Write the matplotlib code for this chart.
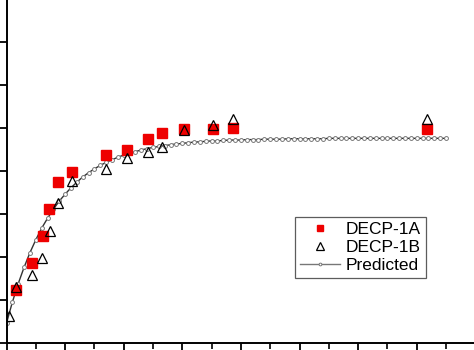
import matplotlib
matplotlib.use("Agg")
import matplotlib.pyplot as plt
from matplotlib.ticker import MultipleLocator

plt.rcParams['font.family'] = ['Liberation Sans', 'DejaVu Sans']

# measured points (axis units; the original labels are cropped off)
x_1a = [0.32, 0.87, 1.25, 1.45, 1.76, 2.24, 3.40, 4.11, 4.83, 5.31, 6.06, 7.05, 7.73, 14.35]
y_1a = [1.23, 1.86, 2.49, 3.12, 3.74, 3.98, 4.37, 4.49, 4.74, 4.88, 4.98, 4.98, 5.00, 4.98]

x_1b = [0.09, 0.32, 0.87, 1.21, 1.48, 1.76, 2.24, 3.40, 4.11, 4.83, 5.31, 6.06, 7.05, 7.73, 14.35]
y_1b = [0.63, 1.30, 1.58, 1.98, 2.60, 3.26, 3.77, 4.05, 4.30, 4.44, 4.56, 4.95, 5.07, 5.21, 5.21]

# predicted curve, read every 0.2 units from 0 to 15
x_pred = [i * 0.2 for i in range(76)]
y_pred = [0.46, 0.95, 1.38, 1.76, 2.10, 2.40, 2.67, 2.90, 3.11, 3.30,
          3.46, 3.61, 3.74, 3.86, 3.96, 4.05, 4.13, 4.20, 4.26, 4.32,
          4.37, 4.41, 4.45, 4.49, 4.52, 4.55, 4.57, 4.59, 4.61, 4.63,
          4.64, 4.66, 4.67, 4.68, 4.69, 4.70, 4.70, 4.71, 4.72, 4.72,
          4.72, 4.73, 4.73, 4.73, 4.74, 4.74, 4.74, 4.74, 4.75, 4.75,
          4.75, 4.75, 4.75, 4.75, 4.75, 4.76, 4.76, 4.76, 4.76, 4.76,
          4.76, 4.76, 4.76, 4.76, 4.76, 4.76, 4.76, 4.76, 4.76, 4.76,
          4.76, 4.76, 4.76, 4.76, 4.76, 4.76]

W, H = 474, 350
fig = plt.figure(figsize=(W / 100, H / 100), dpi=100)
x0, y0 = 6.5, 7
ax = fig.add_axes([x0 / W, y0 / H, (W - x0) / W, (H - y0) / H])
ax.set_xlim(0, (W - x0) / 29.3)
ax.set_ylim(0, (H - y0) / 43.0)

ax.plot(x_pred, y_pred, color='#333333', lw=1.0, marker='o', ms=2.8,
        mfc='white', mec='#777777', mew=0.7, label='Predicted', zorder=2)
ax.plot(x_1a, y_1a, ls='none', marker='s', ms=6.5, color='#ee0000',
        mec='#ee0000', label='DECP-1A', zorder=3)
ax.plot(x_1b, y_1b, ls='none', marker='^', ms=7.5, mfc='none',
        mec='black', mew=0.9, label='DECP-1B', zorder=4)

for s in ['top', 'right']:
    ax.spines[s].set_visible(False)
for s in ['left', 'bottom']:
    ax.spines[s].set_linewidth(1.4)

ax.xaxis.set_major_locator(MultipleLocator(2))
ax.xaxis.set_minor_locator(MultipleLocator(1))
ax.yaxis.set_major_locator(MultipleLocator(1))
ax.tick_params(which='major', direction='out', length=7, width=1.3)
ax.tick_params(which='minor', direction='out', length=4, width=1.2)
ax.tick_params(labelbottom=False, labelleft=False)

h, l = ax.get_legend_handles_labels()
order = [1, 2, 0]
leg = ax.legend([h[i] for i in order], [l[i] for i in order],
                loc='upper left', bbox_to_anchor=((295 - x0) / (W - x0), (H - 217 - y0) / (H - y0)),
                fontsize=12.5, frameon=True, fancybox=False, handlelength=2.3,
                handletextpad=0.3, labelspacing=0.15, borderpad=0.3, borderaxespad=0,
                markerscale=0.7)
leg.get_frame().set_edgecolor('#333333')
leg.get_frame().set_linewidth(0.9)
leg.get_lines()[2].set_color('#777777')

fig.savefig('out.png', dpi=100)
